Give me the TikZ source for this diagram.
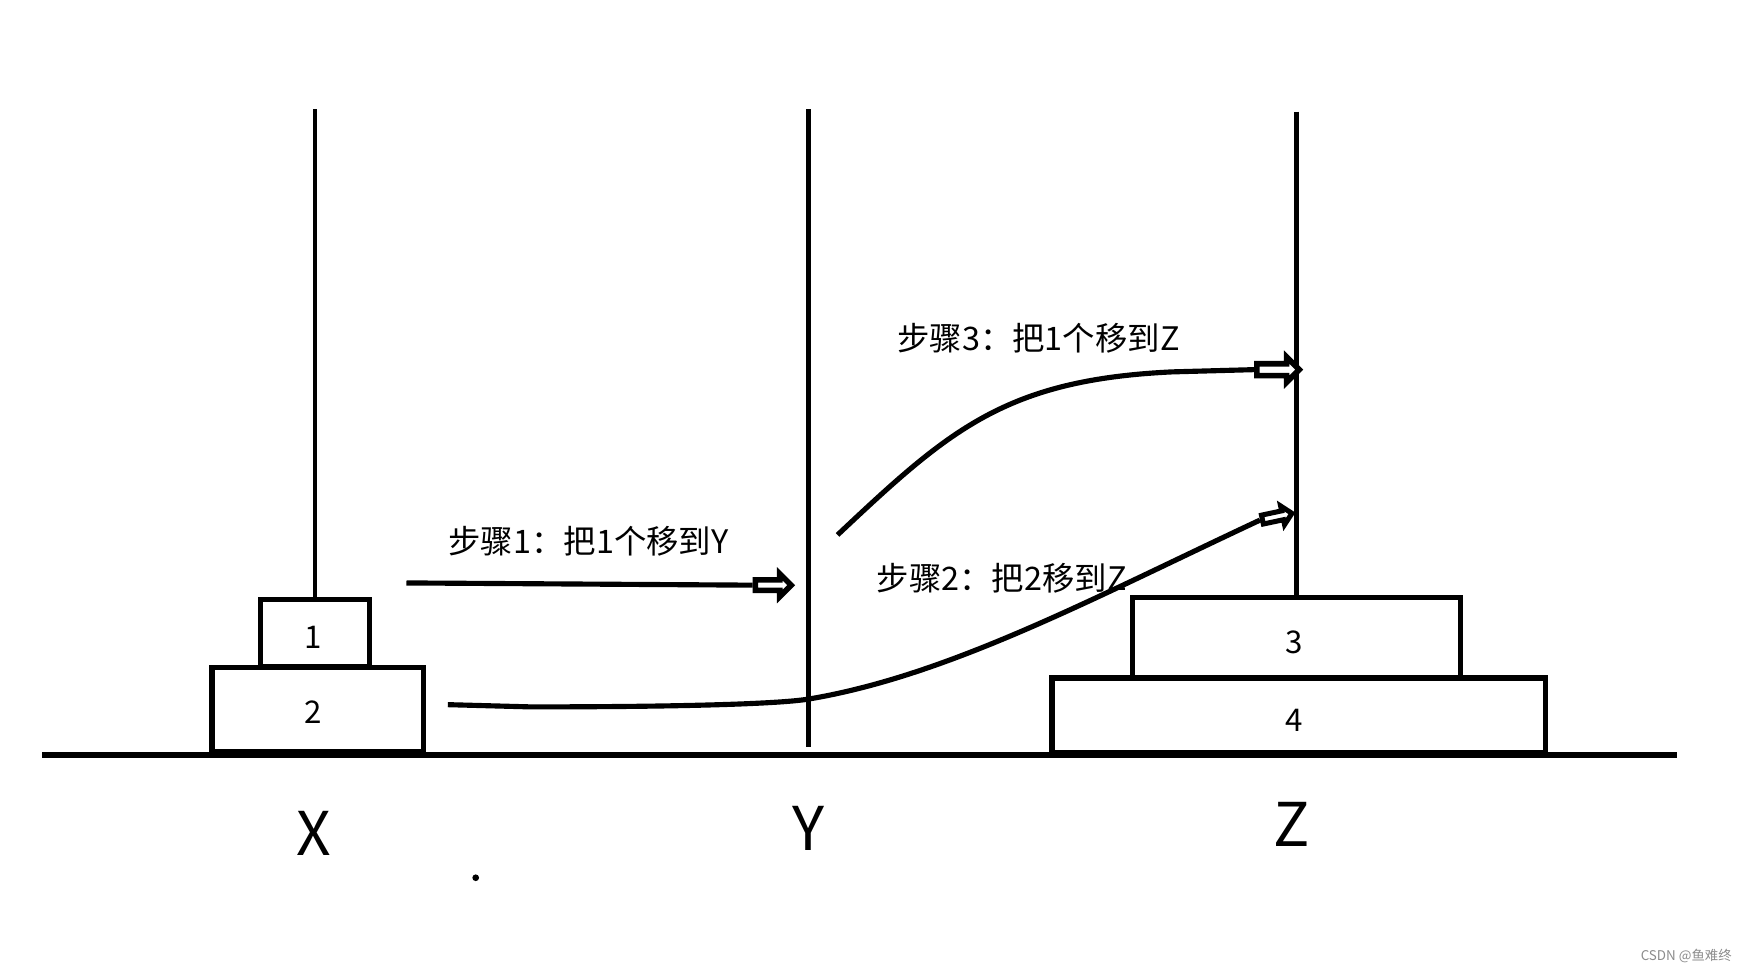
\documentclass[tikz,border=0pt]{standalone}
\usepackage{fontspec}
\setmainfont{Noto Sans CJK SC}
\usetikzlibrary{shapes.arrows}
\tikzset{
  pole/.style={line width=4.2pt},
  ground/.style={line width=5pt},
  disk/.style={draw, line width=4.8pt, rectangle, inner sep=0pt},
  disklabel/.style={font=\fontsize{28}{30}\selectfont, inner sep=0pt},
  conn/.style={line width=4.6pt},
  harrow/.style={shape=single arrow, draw, fill=white, line width=5pt, inner sep=2.2pt,
    minimum height=32pt, minimum width=16pt, single arrow head extend=5.5pt},
  steplabel/.style={font=\fontsize{29}{31}\selectfont, inner sep=0pt},
  pegname/.style={font=\fontsize{54}{56}\selectfont, inner sep=0pt}
}
\begin{document}
\begin{tikzpicture}[x=1pt,y=-1pt]
\path[use as bounding box, fill=white] (0,0) rectangle (1568,870.4);
% disks
\node[disk, minimum width=98pt, minimum height=60pt] (d1) at (282,567) {};
\node[disk, minimum width=189pt, minimum height=75pt] (d2) at (284.5,635.5) {};
\node[disk, minimum width=294pt, minimum height=72pt] (d3) at (1161,571) {};
\node[disk, minimum width=442pt, minimum height=67pt] (d4) at (1163,640.5) {};
\node[disklabel] (l1) at (280,571) {1};
\node[disklabel] (l2) at (280,638) {2};
\node[disklabel] (l3) at (1159,575) {3};
\node[disklabel] (l4) at (1159,645) {4};
% poles
\coordinate (xtop) at (282,98);
\coordinate (ytop) at (724,98);
\coordinate (ybot) at (724,669);
\coordinate (ztop) at (1161,100);
\draw[pole] (xtop) -- (d1.north);
\draw[pole] (ytop) -- (ybot);
\draw[pole] (ztop) -- (d3.north);
% ground
\coordinate (gl) at (38,676);
\coordinate (gr) at (1502,676);
\draw[ground] (gl) -- (gr);
% peg names
\node[pegname] (nx) at (281,746) {X};
\node[pegname] (ny) at (724,742) {Y};
\node[pegname] (nz) at (1157,738) {Z};
% stray dot
\node[circle, fill=black, inner sep=0pt, minimum size=6pt] (dot) at (426,786) {};
% step 1
\coordinate (a1s) at (364,522);
\coordinate (a1e) at (712,524);
\node[harrow, anchor=tip] (h1) at (a1e) {};
\draw[conn] (a1s) -- (h1.tail);
\node[steplabel] (t1) at (527,485) {步骤1：把1个移到Y};
% step 2
\coordinate (a2s) at (401,631);
\coordinate (a2m) at (724,626);
\coordinate (a2e) at (1160,459);
\node[harrow, anchor=tip, rotate=12, minimum height=27pt, minimum width=14pt, single arrow head extend=4.5pt, inner sep=1.8pt, line width=4.5pt] (h2) at (a2e) {};
\draw[conn] (a2s) -- (475,633) .. controls (620,633) and (700,630) .. (a2m)
   .. controls (850,605) and (980,535) .. (h2.tail);
\node[steplabel] (t2) at (897,518) {步骤2：把2移到Z};
% step 3
\coordinate (a3s) at (750,479);
\coordinate (a3e) at (1167,331);
\node[harrow, anchor=tip, minimum height=38pt, minimum width=18pt, single arrow head extend=6pt, inner sep=2.8pt] (h3) at (a3e) {};
\draw[conn] (a3s) .. controls (850,385) and (900,340) .. (1050,333) -- (h3.tail);
\node[steplabel] (t3) at (930,303) {步骤3：把1个移到Z};
% watermark
\node[font=\fontsize{12}{13}\selectfont, text=black!45, inner sep=0pt] (wm) at (1510,856) {CSDN @鱼难终};
\end{tikzpicture}
\end{document}
